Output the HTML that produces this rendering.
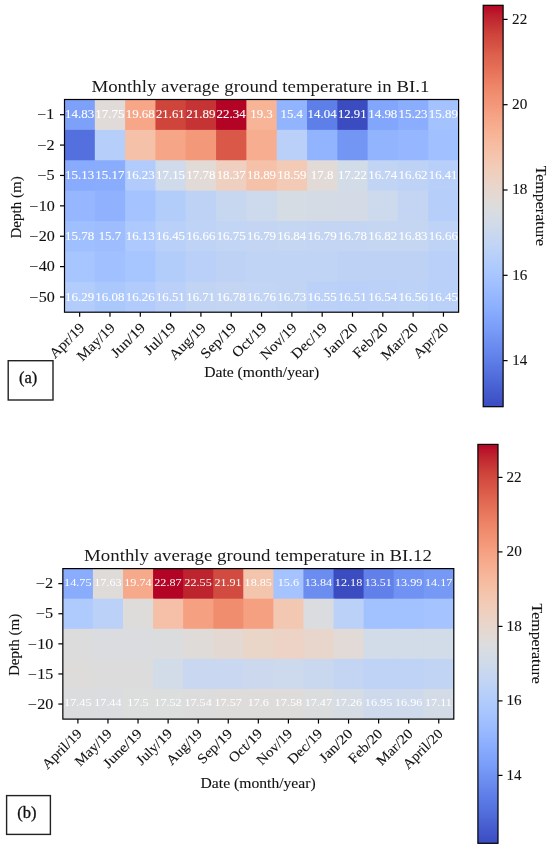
<!DOCTYPE html>
<html><head><meta charset="utf-8"><style>
html,body{margin:0;padding:0;background:#fff;width:550px;height:849px;overflow:hidden}
svg{display:block;font-family:"Liberation Serif",serif;will-change:transform;filter:blur(0.35px)}
</style></head><body>
<svg width="550" height="849" viewBox="0 0 550 849">
<rect x="64.50" y="99.50" width="31.32" height="31.39" fill="#7da0f9"/>
<rect x="94.82" y="99.50" width="31.32" height="31.39" fill="#e0dbd8"/>
<rect x="125.13" y="99.50" width="31.32" height="31.39" fill="#f7a688"/>
<rect x="155.45" y="99.50" width="31.32" height="31.39" fill="#cf453c"/>
<rect x="185.76" y="99.50" width="31.32" height="31.39" fill="#c53334"/>
<rect x="216.08" y="99.50" width="31.32" height="31.39" fill="#b40426"/>
<rect x="246.39" y="99.50" width="31.32" height="31.39" fill="#f7b497"/>
<rect x="276.71" y="99.50" width="31.32" height="31.39" fill="#92b4fe"/>
<rect x="307.02" y="99.50" width="31.32" height="31.39" fill="#5f7fe8"/>
<rect x="337.34" y="99.50" width="31.32" height="31.39" fill="#3b4cc0"/>
<rect x="367.65" y="99.50" width="31.32" height="31.39" fill="#82a6fb"/>
<rect x="397.97" y="99.50" width="31.32" height="31.39" fill="#8badfd"/>
<rect x="428.28" y="99.50" width="30.32" height="31.39" fill="#a3c2fe"/>
<rect x="64.50" y="129.89" width="31.32" height="31.39" fill="#5470de"/>
<rect x="94.82" y="129.89" width="31.32" height="31.39" fill="#b6cefa"/>
<rect x="125.13" y="129.89" width="31.32" height="31.39" fill="#f5c1a9"/>
<rect x="155.45" y="129.89" width="31.32" height="31.39" fill="#f6a586"/>
<rect x="185.76" y="129.89" width="31.32" height="31.39" fill="#f4987a"/>
<rect x="216.08" y="129.89" width="31.32" height="31.39" fill="#d95847"/>
<rect x="246.39" y="129.89" width="31.32" height="31.39" fill="#f7ad90"/>
<rect x="276.71" y="129.89" width="31.32" height="31.39" fill="#bad0f8"/>
<rect x="307.02" y="129.89" width="31.32" height="31.39" fill="#92b4fe"/>
<rect x="337.34" y="129.89" width="31.32" height="31.39" fill="#7396f5"/>
<rect x="367.65" y="129.89" width="31.32" height="31.39" fill="#92b4fe"/>
<rect x="397.97" y="129.89" width="31.32" height="31.39" fill="#96b7ff"/>
<rect x="428.28" y="129.89" width="30.32" height="31.39" fill="#a1c0ff"/>
<rect x="64.50" y="160.27" width="31.32" height="31.39" fill="#88abfd"/>
<rect x="94.82" y="160.27" width="31.32" height="31.39" fill="#89acfd"/>
<rect x="125.13" y="160.27" width="31.32" height="31.39" fill="#b1cbfc"/>
<rect x="155.45" y="160.27" width="31.32" height="31.39" fill="#cfdaea"/>
<rect x="185.76" y="160.27" width="31.32" height="31.39" fill="#e1dad6"/>
<rect x="216.08" y="160.27" width="31.32" height="31.39" fill="#efcfbf"/>
<rect x="246.39" y="160.27" width="31.32" height="31.39" fill="#f5c1a9"/>
<rect x="276.71" y="160.27" width="31.32" height="31.39" fill="#f2cab5"/>
<rect x="307.02" y="160.27" width="31.32" height="31.39" fill="#e1dad6"/>
<rect x="337.34" y="160.27" width="31.32" height="31.39" fill="#d2dbe8"/>
<rect x="367.65" y="160.27" width="31.32" height="31.39" fill="#c1d4f4"/>
<rect x="397.97" y="160.27" width="31.32" height="31.39" fill="#bed2f6"/>
<rect x="428.28" y="160.27" width="30.32" height="31.39" fill="#b7cff9"/>
<rect x="64.50" y="190.66" width="31.32" height="31.39" fill="#96b7ff"/>
<rect x="94.82" y="190.66" width="31.32" height="31.39" fill="#90b2fe"/>
<rect x="125.13" y="190.66" width="31.32" height="31.39" fill="#a5c3fe"/>
<rect x="155.45" y="190.66" width="31.32" height="31.39" fill="#b3cdfb"/>
<rect x="185.76" y="190.66" width="31.32" height="31.39" fill="#bed2f6"/>
<rect x="216.08" y="190.66" width="31.32" height="31.39" fill="#c7d7f0"/>
<rect x="246.39" y="190.66" width="31.32" height="31.39" fill="#cdd9ec"/>
<rect x="276.71" y="190.66" width="31.32" height="31.39" fill="#d6dce4"/>
<rect x="307.02" y="190.66" width="31.32" height="31.39" fill="#d5dbe5"/>
<rect x="337.34" y="190.66" width="31.32" height="31.39" fill="#d4dbe6"/>
<rect x="367.65" y="190.66" width="31.32" height="31.39" fill="#cdd9ec"/>
<rect x="397.97" y="190.66" width="31.32" height="31.39" fill="#c4d5f3"/>
<rect x="428.28" y="190.66" width="30.32" height="31.39" fill="#b6cefa"/>
<rect x="64.50" y="221.04" width="31.32" height="31.39" fill="#9fbfff"/>
<rect x="94.82" y="221.04" width="31.32" height="31.39" fill="#9dbdff"/>
<rect x="125.13" y="221.04" width="31.32" height="31.39" fill="#adc9fd"/>
<rect x="155.45" y="221.04" width="31.32" height="31.39" fill="#b9d0f9"/>
<rect x="185.76" y="221.04" width="31.32" height="31.39" fill="#bfd3f6"/>
<rect x="216.08" y="221.04" width="31.32" height="31.39" fill="#c3d5f4"/>
<rect x="246.39" y="221.04" width="31.32" height="31.39" fill="#c4d5f3"/>
<rect x="276.71" y="221.04" width="31.32" height="31.39" fill="#c5d6f2"/>
<rect x="307.02" y="221.04" width="31.32" height="31.39" fill="#c4d5f3"/>
<rect x="337.34" y="221.04" width="31.32" height="31.39" fill="#c4d5f3"/>
<rect x="367.65" y="221.04" width="31.32" height="31.39" fill="#c5d6f2"/>
<rect x="397.97" y="221.04" width="31.32" height="31.39" fill="#c5d6f2"/>
<rect x="428.28" y="221.04" width="30.32" height="31.39" fill="#bfd3f6"/>
<rect x="64.50" y="251.43" width="31.32" height="31.39" fill="#a7c5fe"/>
<rect x="94.82" y="251.43" width="31.32" height="31.39" fill="#a1c0ff"/>
<rect x="125.13" y="251.43" width="31.32" height="31.39" fill="#a7c5fe"/>
<rect x="155.45" y="251.43" width="31.32" height="31.39" fill="#b3cdfb"/>
<rect x="185.76" y="251.43" width="31.32" height="31.39" fill="#bad0f8"/>
<rect x="216.08" y="251.43" width="31.32" height="31.39" fill="#bed2f6"/>
<rect x="246.39" y="251.43" width="31.32" height="31.39" fill="#c0d4f5"/>
<rect x="276.71" y="251.43" width="31.32" height="31.39" fill="#c0d4f5"/>
<rect x="307.02" y="251.43" width="31.32" height="31.39" fill="#c0d4f5"/>
<rect x="337.34" y="251.43" width="31.32" height="31.39" fill="#bed2f6"/>
<rect x="367.65" y="251.43" width="31.32" height="31.39" fill="#bed2f6"/>
<rect x="397.97" y="251.43" width="31.32" height="31.39" fill="#bed2f6"/>
<rect x="428.28" y="251.43" width="30.32" height="31.39" fill="#bad0f8"/>
<rect x="64.50" y="281.81" width="31.32" height="30.39" fill="#b2ccfb"/>
<rect x="94.82" y="281.81" width="31.32" height="30.39" fill="#abc8fd"/>
<rect x="125.13" y="281.81" width="31.32" height="30.39" fill="#b1cbfc"/>
<rect x="155.45" y="281.81" width="31.32" height="30.39" fill="#bad0f8"/>
<rect x="185.76" y="281.81" width="31.32" height="30.39" fill="#c1d4f4"/>
<rect x="216.08" y="281.81" width="31.32" height="30.39" fill="#c4d5f3"/>
<rect x="246.39" y="281.81" width="31.32" height="30.39" fill="#c3d5f4"/>
<rect x="276.71" y="281.81" width="31.32" height="30.39" fill="#c1d4f4"/>
<rect x="307.02" y="281.81" width="31.32" height="30.39" fill="#bbd1f8"/>
<rect x="337.34" y="281.81" width="31.32" height="30.39" fill="#bad0f8"/>
<rect x="367.65" y="281.81" width="31.32" height="30.39" fill="#bbd1f8"/>
<rect x="397.97" y="281.81" width="31.32" height="30.39" fill="#bcd2f7"/>
<rect x="428.28" y="281.81" width="30.32" height="30.39" fill="#b9d0f9"/>
<text x="65.05" y="118.29" font-size="12.98" textLength="29.06" lengthAdjust="spacingAndGlyphs" fill="#fff" stroke="#fff" stroke-width="0.10">14.83</text>
<text x="95.37" y="118.29" font-size="12.98" textLength="29.06" lengthAdjust="spacingAndGlyphs" fill="#fff" stroke="#fff" stroke-width="0.10">17.75</text>
<text x="125.68" y="118.29" font-size="12.98" textLength="29.17" lengthAdjust="spacingAndGlyphs" fill="#fff" stroke="#fff" stroke-width="0.10">19.68</text>
<text x="155.96" y="118.29" font-size="12.98" textLength="28.69" lengthAdjust="spacingAndGlyphs" fill="#fff" stroke="#fff" stroke-width="0.10">21.61</text>
<text x="186.26" y="118.29" font-size="12.98" textLength="29.22" lengthAdjust="spacingAndGlyphs" fill="#fff" stroke="#fff" stroke-width="0.10">21.89</text>
<text x="216.58" y="118.29" font-size="12.98" textLength="29.05" lengthAdjust="spacingAndGlyphs" fill="#fff" stroke="#fff" stroke-width="0.10">22.34</text>
<text x="250.23" y="118.29" font-size="12.98" textLength="22.52" lengthAdjust="spacingAndGlyphs" fill="#fff" stroke="#fff" stroke-width="0.10">19.3</text>
<text x="280.54" y="118.29" font-size="12.98" textLength="22.45" lengthAdjust="spacingAndGlyphs" fill="#fff" stroke="#fff" stroke-width="0.10">15.4</text>
<text x="307.58" y="118.29" font-size="12.98" textLength="29.00" lengthAdjust="spacingAndGlyphs" fill="#fff" stroke="#fff" stroke-width="0.10">14.04</text>
<text x="337.91" y="118.29" font-size="12.98" textLength="28.62" lengthAdjust="spacingAndGlyphs" fill="#fff" stroke="#fff" stroke-width="0.10">12.91</text>
<text x="368.20" y="118.29" font-size="12.98" textLength="29.17" lengthAdjust="spacingAndGlyphs" fill="#fff" stroke="#fff" stroke-width="0.10">14.98</text>
<text x="398.52" y="118.29" font-size="12.98" textLength="29.06" lengthAdjust="spacingAndGlyphs" fill="#fff" stroke="#fff" stroke-width="0.10">15.23</text>
<text x="428.83" y="118.29" font-size="12.98" textLength="29.17" lengthAdjust="spacingAndGlyphs" fill="#fff" stroke="#fff" stroke-width="0.10">15.89</text>
<text x="65.05" y="179.06" font-size="12.98" textLength="29.06" lengthAdjust="spacingAndGlyphs" fill="#fff" stroke="#fff" stroke-width="0.10">15.13</text>
<text x="95.37" y="179.06" font-size="12.98" textLength="28.98" lengthAdjust="spacingAndGlyphs" fill="#fff" stroke="#fff" stroke-width="0.10">15.17</text>
<text x="125.68" y="179.06" font-size="12.98" textLength="29.06" lengthAdjust="spacingAndGlyphs" fill="#fff" stroke="#fff" stroke-width="0.10">16.23</text>
<text x="156.00" y="179.06" font-size="12.98" textLength="29.06" lengthAdjust="spacingAndGlyphs" fill="#fff" stroke="#fff" stroke-width="0.10">17.15</text>
<text x="186.31" y="179.06" font-size="12.98" textLength="29.17" lengthAdjust="spacingAndGlyphs" fill="#fff" stroke="#fff" stroke-width="0.10">17.78</text>
<text x="216.63" y="179.06" font-size="12.98" textLength="28.98" lengthAdjust="spacingAndGlyphs" fill="#fff" stroke="#fff" stroke-width="0.10">18.37</text>
<text x="246.94" y="179.06" font-size="12.98" textLength="29.17" lengthAdjust="spacingAndGlyphs" fill="#fff" stroke="#fff" stroke-width="0.10">18.89</text>
<text x="277.26" y="179.06" font-size="12.98" textLength="29.17" lengthAdjust="spacingAndGlyphs" fill="#fff" stroke="#fff" stroke-width="0.10">18.59</text>
<text x="310.85" y="179.06" font-size="12.98" textLength="22.63" lengthAdjust="spacingAndGlyphs" fill="#fff" stroke="#fff" stroke-width="0.10">17.8</text>
<text x="337.89" y="179.06" font-size="12.98" textLength="29.05" lengthAdjust="spacingAndGlyphs" fill="#fff" stroke="#fff" stroke-width="0.10">17.22</text>
<text x="368.21" y="179.06" font-size="12.98" textLength="29.00" lengthAdjust="spacingAndGlyphs" fill="#fff" stroke="#fff" stroke-width="0.10">16.74</text>
<text x="398.52" y="179.06" font-size="12.98" textLength="29.05" lengthAdjust="spacingAndGlyphs" fill="#fff" stroke="#fff" stroke-width="0.10">16.62</text>
<text x="428.85" y="179.06" font-size="12.98" textLength="28.62" lengthAdjust="spacingAndGlyphs" fill="#fff" stroke="#fff" stroke-width="0.10">16.41</text>
<text x="65.05" y="239.84" font-size="12.98" textLength="29.17" lengthAdjust="spacingAndGlyphs" fill="#fff" stroke="#fff" stroke-width="0.10">15.78</text>
<text x="98.65" y="239.84" font-size="12.98" textLength="22.43" lengthAdjust="spacingAndGlyphs" fill="#fff" stroke="#fff" stroke-width="0.10">15.7</text>
<text x="125.68" y="239.84" font-size="12.98" textLength="29.06" lengthAdjust="spacingAndGlyphs" fill="#fff" stroke="#fff" stroke-width="0.10">16.13</text>
<text x="156.00" y="239.84" font-size="12.98" textLength="29.06" lengthAdjust="spacingAndGlyphs" fill="#fff" stroke="#fff" stroke-width="0.10">16.45</text>
<text x="186.31" y="239.84" font-size="12.98" textLength="29.09" lengthAdjust="spacingAndGlyphs" fill="#fff" stroke="#fff" stroke-width="0.10">16.66</text>
<text x="216.63" y="239.84" font-size="12.98" textLength="29.06" lengthAdjust="spacingAndGlyphs" fill="#fff" stroke="#fff" stroke-width="0.10">16.75</text>
<text x="246.94" y="239.84" font-size="12.98" textLength="29.17" lengthAdjust="spacingAndGlyphs" fill="#fff" stroke="#fff" stroke-width="0.10">16.79</text>
<text x="277.26" y="239.84" font-size="12.98" textLength="29.00" lengthAdjust="spacingAndGlyphs" fill="#fff" stroke="#fff" stroke-width="0.10">16.84</text>
<text x="307.57" y="239.84" font-size="12.98" textLength="29.17" lengthAdjust="spacingAndGlyphs" fill="#fff" stroke="#fff" stroke-width="0.10">16.79</text>
<text x="337.89" y="239.84" font-size="12.98" textLength="29.17" lengthAdjust="spacingAndGlyphs" fill="#fff" stroke="#fff" stroke-width="0.10">16.78</text>
<text x="368.21" y="239.84" font-size="12.98" textLength="29.05" lengthAdjust="spacingAndGlyphs" fill="#fff" stroke="#fff" stroke-width="0.10">16.82</text>
<text x="398.52" y="239.84" font-size="12.98" textLength="29.06" lengthAdjust="spacingAndGlyphs" fill="#fff" stroke="#fff" stroke-width="0.10">16.83</text>
<text x="428.84" y="239.84" font-size="12.98" textLength="29.09" lengthAdjust="spacingAndGlyphs" fill="#fff" stroke="#fff" stroke-width="0.10">16.66</text>
<text x="65.05" y="300.61" font-size="12.98" textLength="29.17" lengthAdjust="spacingAndGlyphs" fill="#fff" stroke="#fff" stroke-width="0.10">16.29</text>
<text x="95.36" y="300.61" font-size="12.98" textLength="29.17" lengthAdjust="spacingAndGlyphs" fill="#fff" stroke="#fff" stroke-width="0.10">16.08</text>
<text x="125.68" y="300.61" font-size="12.98" textLength="29.09" lengthAdjust="spacingAndGlyphs" fill="#fff" stroke="#fff" stroke-width="0.10">16.26</text>
<text x="156.01" y="300.61" font-size="12.98" textLength="28.62" lengthAdjust="spacingAndGlyphs" fill="#fff" stroke="#fff" stroke-width="0.10">16.51</text>
<text x="186.33" y="300.61" font-size="12.98" textLength="28.62" lengthAdjust="spacingAndGlyphs" fill="#fff" stroke="#fff" stroke-width="0.10">16.71</text>
<text x="216.62" y="300.61" font-size="12.98" textLength="29.17" lengthAdjust="spacingAndGlyphs" fill="#fff" stroke="#fff" stroke-width="0.10">16.78</text>
<text x="246.94" y="300.61" font-size="12.98" textLength="29.09" lengthAdjust="spacingAndGlyphs" fill="#fff" stroke="#fff" stroke-width="0.10">16.76</text>
<text x="277.26" y="300.61" font-size="12.98" textLength="29.06" lengthAdjust="spacingAndGlyphs" fill="#fff" stroke="#fff" stroke-width="0.10">16.73</text>
<text x="307.57" y="300.61" font-size="12.98" textLength="29.06" lengthAdjust="spacingAndGlyphs" fill="#fff" stroke="#fff" stroke-width="0.10">16.55</text>
<text x="337.91" y="300.61" font-size="12.98" textLength="28.62" lengthAdjust="spacingAndGlyphs" fill="#fff" stroke="#fff" stroke-width="0.10">16.51</text>
<text x="368.21" y="300.61" font-size="12.98" textLength="29.00" lengthAdjust="spacingAndGlyphs" fill="#fff" stroke="#fff" stroke-width="0.10">16.54</text>
<text x="398.52" y="300.61" font-size="12.98" textLength="29.09" lengthAdjust="spacingAndGlyphs" fill="#fff" stroke="#fff" stroke-width="0.10">16.56</text>
<text x="428.84" y="300.61" font-size="12.98" textLength="29.06" lengthAdjust="spacingAndGlyphs" fill="#fff" stroke="#fff" stroke-width="0.10">16.45</text>
<rect x="64.50" y="99.50" width="394.10" height="212.70" fill="none" stroke="#000" stroke-width="1.20"/>
<line x1="60.00" y1="114.69" x2="64.50" y2="114.69" stroke="#000" stroke-width="1.20"/>
<text x="37.44" y="119.39" font-size="14.09" textLength="16.79" lengthAdjust="spacingAndGlyphs" fill="#111" stroke="#111" stroke-width="0.10">−1</text>
<line x1="60.00" y1="145.08" x2="64.50" y2="145.08" stroke="#000" stroke-width="1.20"/>
<text x="37.41" y="149.78" font-size="14.09" textLength="17.31" lengthAdjust="spacingAndGlyphs" fill="#111" stroke="#111" stroke-width="0.10">−2</text>
<line x1="60.00" y1="175.46" x2="64.50" y2="175.46" stroke="#000" stroke-width="1.20"/>
<text x="37.41" y="180.16" font-size="14.09" textLength="17.31" lengthAdjust="spacingAndGlyphs" fill="#111" stroke="#111" stroke-width="0.10">−5</text>
<line x1="60.00" y1="205.85" x2="64.50" y2="205.85" stroke="#000" stroke-width="1.20"/>
<text x="29.63" y="210.55" font-size="14.09" textLength="25.20" lengthAdjust="spacingAndGlyphs" fill="#111" stroke="#111" stroke-width="0.10">−10</text>
<line x1="60.00" y1="236.24" x2="64.50" y2="236.24" stroke="#000" stroke-width="1.20"/>
<text x="29.63" y="240.94" font-size="14.09" textLength="25.20" lengthAdjust="spacingAndGlyphs" fill="#111" stroke="#111" stroke-width="0.10">−20</text>
<line x1="60.00" y1="266.62" x2="64.50" y2="266.62" stroke="#000" stroke-width="1.20"/>
<text x="29.63" y="271.32" font-size="14.09" textLength="25.20" lengthAdjust="spacingAndGlyphs" fill="#111" stroke="#111" stroke-width="0.10">−40</text>
<line x1="60.00" y1="297.01" x2="64.50" y2="297.01" stroke="#000" stroke-width="1.20"/>
<text x="29.63" y="301.71" font-size="14.09" textLength="25.20" lengthAdjust="spacingAndGlyphs" fill="#111" stroke="#111" stroke-width="0.10">−50</text>
<line x1="79.66" y1="312.20" x2="79.66" y2="316.70" stroke="#000" stroke-width="1.20"/>
<text x="42.32" y="328.40" font-size="14.37" textLength="43.11" lengthAdjust="spacingAndGlyphs" fill="#111" stroke="#111" stroke-width="0.10" transform="rotate(-45 85.66 328.40)">Apr/19</text>
<line x1="109.97" y1="312.20" x2="109.97" y2="316.70" stroke="#000" stroke-width="1.20"/>
<text x="68.71" y="328.40" font-size="14.37" textLength="47.07" lengthAdjust="spacingAndGlyphs" fill="#111" stroke="#111" stroke-width="0.10" transform="rotate(-45 115.97 328.40)">May/19</text>
<line x1="140.29" y1="312.20" x2="140.29" y2="316.70" stroke="#000" stroke-width="1.20"/>
<text x="103.68" y="328.40" font-size="14.37" textLength="42.42" lengthAdjust="spacingAndGlyphs" fill="#111" stroke="#111" stroke-width="0.10" transform="rotate(-45 146.29 328.40)">Jun/19</text>
<line x1="170.60" y1="312.20" x2="170.60" y2="316.70" stroke="#000" stroke-width="1.20"/>
<text x="138.05" y="328.40" font-size="14.37" textLength="38.38" lengthAdjust="spacingAndGlyphs" fill="#111" stroke="#111" stroke-width="0.10" transform="rotate(-45 176.60 328.40)">Jul/19</text>
<line x1="200.92" y1="312.20" x2="200.92" y2="316.70" stroke="#000" stroke-width="1.20"/>
<text x="161.51" y="328.40" font-size="14.37" textLength="45.19" lengthAdjust="spacingAndGlyphs" fill="#111" stroke="#111" stroke-width="0.10" transform="rotate(-45 206.92 328.40)">Aug/19</text>
<line x1="231.23" y1="312.20" x2="231.23" y2="316.70" stroke="#000" stroke-width="1.20"/>
<text x="193.19" y="328.40" font-size="14.37" textLength="43.81" lengthAdjust="spacingAndGlyphs" fill="#111" stroke="#111" stroke-width="0.10" transform="rotate(-45 237.23 328.40)">Sep/19</text>
<line x1="261.55" y1="312.20" x2="261.55" y2="316.70" stroke="#000" stroke-width="1.20"/>
<text x="225.23" y="328.40" font-size="14.37" textLength="42.14" lengthAdjust="spacingAndGlyphs" fill="#111" stroke="#111" stroke-width="0.10" transform="rotate(-45 267.55 328.40)">Oct/19</text>
<line x1="291.87" y1="312.20" x2="291.87" y2="316.70" stroke="#000" stroke-width="1.20"/>
<text x="252.40" y="328.40" font-size="14.37" textLength="45.24" lengthAdjust="spacingAndGlyphs" fill="#111" stroke="#111" stroke-width="0.10" transform="rotate(-45 297.87 328.40)">Nov/19</text>
<line x1="322.18" y1="312.20" x2="322.18" y2="316.70" stroke="#000" stroke-width="1.20"/>
<text x="283.87" y="328.40" font-size="14.37" textLength="44.03" lengthAdjust="spacingAndGlyphs" fill="#111" stroke="#111" stroke-width="0.10" transform="rotate(-45 328.18 328.40)">Dec/19</text>
<line x1="352.50" y1="312.20" x2="352.50" y2="316.70" stroke="#000" stroke-width="1.20"/>
<text x="316.48" y="328.40" font-size="14.37" textLength="41.85" lengthAdjust="spacingAndGlyphs" fill="#111" stroke="#111" stroke-width="0.10" transform="rotate(-45 358.50 328.40)">Jan/20</text>
<line x1="382.81" y1="312.20" x2="382.81" y2="316.70" stroke="#000" stroke-width="1.20"/>
<text x="345.53" y="328.40" font-size="14.37" textLength="43.05" lengthAdjust="spacingAndGlyphs" fill="#111" stroke="#111" stroke-width="0.10" transform="rotate(-45 388.81 328.40)">Feb/20</text>
<line x1="413.13" y1="312.20" x2="413.13" y2="316.70" stroke="#000" stroke-width="1.20"/>
<text x="372.94" y="328.40" font-size="14.37" textLength="45.95" lengthAdjust="spacingAndGlyphs" fill="#111" stroke="#111" stroke-width="0.10" transform="rotate(-45 419.13 328.40)">Mar/20</text>
<line x1="443.44" y1="312.20" x2="443.44" y2="316.70" stroke="#000" stroke-width="1.20"/>
<text x="406.10" y="328.40" font-size="14.37" textLength="43.11" lengthAdjust="spacingAndGlyphs" fill="#111" stroke="#111" stroke-width="0.10" transform="rotate(-45 449.44 328.40)">Apr/20</text>
<text x="91.44" y="91.70" font-size="16.58" textLength="337.93" lengthAdjust="spacingAndGlyphs" fill="#1a1a1a" stroke="#1a1a1a" stroke-width="0.00">Monthly average ground temperature in BI.1</text>
<text x="204.20" y="377.20" font-size="14.09" textLength="115.10" lengthAdjust="spacingAndGlyphs" fill="#111" stroke="#111" stroke-width="0.10">Date (month/year)</text>
<text x="-10.28" y="207.35" font-size="14.09" textLength="62.22" lengthAdjust="spacingAndGlyphs" fill="#111" stroke="#111" stroke-width="0.10" transform="rotate(-90 20.90 207.35)">Depth (m)</text>
<defs><linearGradient id="ga" x1="0" y1="0" x2="0" y2="1"><stop offset="0.0000" stop-color="#b40426"/><stop offset="0.0250" stop-color="#bd1f2d"/><stop offset="0.0500" stop-color="#c53334"/><stop offset="0.0750" stop-color="#cf453c"/><stop offset="0.1000" stop-color="#d65244"/><stop offset="0.1250" stop-color="#de614d"/><stop offset="0.1500" stop-color="#e36c55"/><stop offset="0.1750" stop-color="#e9785d"/><stop offset="0.2000" stop-color="#ee8468"/><stop offset="0.2250" stop-color="#f18f71"/><stop offset="0.2500" stop-color="#f4987a"/><stop offset="0.2750" stop-color="#f6a385"/><stop offset="0.3000" stop-color="#f7ac8e"/><stop offset="0.3250" stop-color="#f7b599"/><stop offset="0.3500" stop-color="#f6bda2"/><stop offset="0.3750" stop-color="#f5c4ac"/><stop offset="0.4000" stop-color="#f2cbb7"/><stop offset="0.4250" stop-color="#eed0c0"/><stop offset="0.4500" stop-color="#e9d5cb"/><stop offset="0.4750" stop-color="#e3d9d3"/><stop offset="0.5000" stop-color="#dddcdc"/><stop offset="0.5250" stop-color="#d6dce4"/><stop offset="0.5500" stop-color="#cfdaea"/><stop offset="0.5750" stop-color="#c7d7f0"/><stop offset="0.6000" stop-color="#c0d4f5"/><stop offset="0.6250" stop-color="#b7cff9"/><stop offset="0.6500" stop-color="#afcafc"/><stop offset="0.6750" stop-color="#a7c5fe"/><stop offset="0.7000" stop-color="#9ebeff"/><stop offset="0.7250" stop-color="#96b7ff"/><stop offset="0.7500" stop-color="#8db0fe"/><stop offset="0.7750" stop-color="#84a7fc"/><stop offset="0.8000" stop-color="#7b9ff9"/><stop offset="0.8250" stop-color="#7295f4"/><stop offset="0.8500" stop-color="#6a8bef"/><stop offset="0.8750" stop-color="#6282ea"/><stop offset="0.9000" stop-color="#5977e3"/><stop offset="0.9250" stop-color="#516ddb"/><stop offset="0.9500" stop-color="#4961d2"/><stop offset="0.9750" stop-color="#4257c9"/><stop offset="1.0000" stop-color="#3b4cc0"/></linearGradient></defs>
<rect x="483.20" y="5.30" width="19.90" height="401.40" fill="url(#ga)" stroke="#000" stroke-width="1.20"/>
<line x1="503.10" y1="360.63" x2="507.60" y2="360.63" stroke="#000" stroke-width="1.20"/>
<text x="512.20" y="364.83" font-size="14.09" textLength="14.97" lengthAdjust="spacingAndGlyphs" fill="#111" stroke="#111" stroke-width="0.10">14</text>
<line x1="503.10" y1="275.32" x2="507.60" y2="275.32" stroke="#000" stroke-width="1.20"/>
<text x="512.19" y="279.52" font-size="14.09" textLength="15.09" lengthAdjust="spacingAndGlyphs" fill="#111" stroke="#111" stroke-width="0.10">16</text>
<line x1="503.10" y1="190.00" x2="507.60" y2="190.00" stroke="#000" stroke-width="1.20"/>
<text x="512.18" y="194.20" font-size="14.09" textLength="15.19" lengthAdjust="spacingAndGlyphs" fill="#111" stroke="#111" stroke-width="0.10">18</text>
<line x1="503.10" y1="104.69" x2="507.60" y2="104.69" stroke="#000" stroke-width="1.20"/>
<text x="512.11" y="108.89" font-size="14.09" textLength="15.26" lengthAdjust="spacingAndGlyphs" fill="#111" stroke="#111" stroke-width="0.10">20</text>
<line x1="503.10" y1="19.38" x2="507.60" y2="19.38" stroke="#000" stroke-width="1.20"/>
<text x="512.12" y="23.58" font-size="14.09" textLength="15.11" lengthAdjust="spacingAndGlyphs" fill="#111" stroke="#111" stroke-width="0.10">22</text>
<text x="495.18" y="206.00" font-size="14.09" textLength="80.35" lengthAdjust="spacingAndGlyphs" fill="#111" stroke="#111" stroke-width="0.10" transform="rotate(90 535.50 206.00)">Temperature</text>
<rect x="8.20" y="360.70" width="44.80" height="39.30" fill="#fff" stroke="#222" stroke-width="1.40"/>
<text x="28.20" y="382.80" font-size="16.50" text-anchor="middle" fill="#111" stroke="#111" stroke-width="0.3">(a)</text>
<rect x="62.85" y="568.60" width="31.07" height="31.10" fill="#89acfd"/>
<rect x="92.92" y="568.60" width="31.07" height="31.10" fill="#dfdbd9"/>
<rect x="123.00" y="568.60" width="31.07" height="31.10" fill="#f7a98b"/>
<rect x="153.07" y="568.60" width="31.07" height="31.10" fill="#b40426"/>
<rect x="183.14" y="568.60" width="31.07" height="31.10" fill="#be242e"/>
<rect x="213.22" y="568.60" width="31.07" height="31.10" fill="#d24b40"/>
<rect x="243.29" y="568.60" width="31.07" height="31.10" fill="#f4c5ad"/>
<rect x="273.36" y="568.60" width="31.07" height="31.10" fill="#a5c3fe"/>
<rect x="303.43" y="568.60" width="31.07" height="31.10" fill="#6b8df0"/>
<rect x="333.51" y="568.60" width="31.07" height="31.10" fill="#3b4cc0"/>
<rect x="363.58" y="568.60" width="31.07" height="31.10" fill="#6180e9"/>
<rect x="393.65" y="568.60" width="31.07" height="31.10" fill="#7093f3"/>
<rect x="423.73" y="568.60" width="30.07" height="31.10" fill="#7699f6"/>
<rect x="62.85" y="598.70" width="31.07" height="31.10" fill="#afcafc"/>
<rect x="92.92" y="598.70" width="31.07" height="31.10" fill="#bbd1f8"/>
<rect x="123.00" y="598.70" width="31.07" height="31.10" fill="#dedcdb"/>
<rect x="153.07" y="598.70" width="31.07" height="31.10" fill="#f5c0a7"/>
<rect x="183.14" y="598.70" width="31.07" height="31.10" fill="#f5a081"/>
<rect x="213.22" y="598.70" width="31.07" height="31.10" fill="#f18d6f"/>
<rect x="243.29" y="598.70" width="31.07" height="31.10" fill="#f5a081"/>
<rect x="273.36" y="598.70" width="31.07" height="31.10" fill="#f3c8b2"/>
<rect x="303.43" y="598.70" width="31.07" height="31.10" fill="#dadce0"/>
<rect x="333.51" y="598.70" width="31.07" height="31.10" fill="#bbd1f8"/>
<rect x="363.58" y="598.70" width="31.07" height="31.10" fill="#a2c1ff"/>
<rect x="393.65" y="598.70" width="31.07" height="31.10" fill="#a2c1ff"/>
<rect x="423.73" y="598.70" width="30.07" height="31.10" fill="#a5c3fe"/>
<rect x="62.85" y="628.80" width="31.07" height="31.10" fill="#dddcdc"/>
<rect x="92.92" y="628.80" width="31.07" height="31.10" fill="#dadce0"/>
<rect x="123.00" y="628.80" width="31.07" height="31.10" fill="#dadce0"/>
<rect x="153.07" y="628.80" width="31.07" height="31.10" fill="#dbdcde"/>
<rect x="183.14" y="628.80" width="31.07" height="31.10" fill="#dfdbd9"/>
<rect x="213.22" y="628.80" width="31.07" height="31.10" fill="#e4d9d2"/>
<rect x="243.29" y="628.80" width="31.07" height="31.10" fill="#ead5c9"/>
<rect x="273.36" y="628.80" width="31.07" height="31.10" fill="#ecd3c5"/>
<rect x="303.43" y="628.80" width="31.07" height="31.10" fill="#e8d6cc"/>
<rect x="333.51" y="628.80" width="31.07" height="31.10" fill="#e1dad6"/>
<rect x="363.58" y="628.80" width="31.07" height="31.10" fill="#d2dbe8"/>
<rect x="393.65" y="628.80" width="31.07" height="31.10" fill="#d2dbe8"/>
<rect x="423.73" y="628.80" width="30.07" height="31.10" fill="#d2dbe8"/>
<rect x="62.85" y="658.90" width="31.07" height="31.10" fill="#dedcdb"/>
<rect x="92.92" y="658.90" width="31.07" height="31.10" fill="#dddcdc"/>
<rect x="123.00" y="658.90" width="31.07" height="31.10" fill="#dddcdc"/>
<rect x="153.07" y="658.90" width="31.07" height="31.10" fill="#d2dbe8"/>
<rect x="183.14" y="658.90" width="31.07" height="31.10" fill="#c9d7f0"/>
<rect x="213.22" y="658.90" width="31.07" height="31.10" fill="#c9d7f0"/>
<rect x="243.29" y="658.90" width="31.07" height="31.10" fill="#cbd8ee"/>
<rect x="273.36" y="658.90" width="31.07" height="31.10" fill="#cdd9ec"/>
<rect x="303.43" y="658.90" width="31.07" height="31.10" fill="#cad8ef"/>
<rect x="333.51" y="658.90" width="31.07" height="31.10" fill="#c4d5f3"/>
<rect x="363.58" y="658.90" width="31.07" height="31.10" fill="#bfd3f6"/>
<rect x="393.65" y="658.90" width="31.07" height="31.10" fill="#bfd3f6"/>
<rect x="423.73" y="658.90" width="30.07" height="31.10" fill="#c1d4f4"/>
<rect x="62.85" y="689.00" width="31.07" height="30.10" fill="#dbdcde"/>
<rect x="92.92" y="689.00" width="31.07" height="30.10" fill="#dadce0"/>
<rect x="123.00" y="689.00" width="31.07" height="30.10" fill="#dcdddd"/>
<rect x="153.07" y="689.00" width="31.07" height="30.10" fill="#dcdddd"/>
<rect x="183.14" y="689.00" width="31.07" height="30.10" fill="#dddcdc"/>
<rect x="213.22" y="689.00" width="31.07" height="30.10" fill="#dedcdb"/>
<rect x="243.29" y="689.00" width="31.07" height="30.10" fill="#dedcdb"/>
<rect x="273.36" y="689.00" width="31.07" height="30.10" fill="#dedcdb"/>
<rect x="303.43" y="689.00" width="31.07" height="30.10" fill="#dbdcde"/>
<rect x="333.51" y="689.00" width="31.07" height="30.10" fill="#d6dce4"/>
<rect x="363.58" y="689.00" width="31.07" height="30.10" fill="#cedaeb"/>
<rect x="393.65" y="689.00" width="31.07" height="30.10" fill="#cedaeb"/>
<rect x="423.73" y="689.00" width="30.07" height="30.10" fill="#d3dbe7"/>
<text x="64.13" y="585.85" font-size="11.15" textLength="27.37" lengthAdjust="spacingAndGlyphs" fill="#fff" stroke="#fff" stroke-width="0.00">14.75</text>
<text x="94.20" y="585.85" font-size="11.15" textLength="27.37" lengthAdjust="spacingAndGlyphs" fill="#fff" stroke="#fff" stroke-width="0.00">17.63</text>
<text x="124.28" y="585.85" font-size="11.15" textLength="27.31" lengthAdjust="spacingAndGlyphs" fill="#fff" stroke="#fff" stroke-width="0.00">19.74</text>
<text x="154.30" y="585.85" font-size="11.15" textLength="27.34" lengthAdjust="spacingAndGlyphs" fill="#fff" stroke="#fff" stroke-width="0.00">22.87</text>
<text x="184.38" y="585.85" font-size="11.15" textLength="27.42" lengthAdjust="spacingAndGlyphs" fill="#fff" stroke="#fff" stroke-width="0.00">22.55</text>
<text x="214.46" y="585.85" font-size="11.15" textLength="27.01" lengthAdjust="spacingAndGlyphs" fill="#fff" stroke="#fff" stroke-width="0.00">21.91</text>
<text x="244.57" y="585.85" font-size="11.15" textLength="27.37" lengthAdjust="spacingAndGlyphs" fill="#fff" stroke="#fff" stroke-width="0.00">18.85</text>
<text x="277.73" y="585.85" font-size="11.15" textLength="21.23" lengthAdjust="spacingAndGlyphs" fill="#fff" stroke="#fff" stroke-width="0.00">15.6</text>
<text x="304.72" y="585.85" font-size="11.15" textLength="27.31" lengthAdjust="spacingAndGlyphs" fill="#fff" stroke="#fff" stroke-width="0.00">13.84</text>
<text x="334.79" y="585.85" font-size="11.15" textLength="27.47" lengthAdjust="spacingAndGlyphs" fill="#fff" stroke="#fff" stroke-width="0.00">12.18</text>
<text x="364.88" y="585.85" font-size="11.15" textLength="26.96" lengthAdjust="spacingAndGlyphs" fill="#fff" stroke="#fff" stroke-width="0.00">13.51</text>
<text x="394.93" y="585.85" font-size="11.15" textLength="27.47" lengthAdjust="spacingAndGlyphs" fill="#fff" stroke="#fff" stroke-width="0.00">13.99</text>
<text x="425.01" y="585.85" font-size="11.15" textLength="27.29" lengthAdjust="spacingAndGlyphs" fill="#fff" stroke="#fff" stroke-width="0.00">14.17</text>
<text x="64.13" y="706.25" font-size="11.15" textLength="27.37" lengthAdjust="spacingAndGlyphs" fill="#fff" stroke="#fff" stroke-width="0.00">17.45</text>
<text x="94.21" y="706.25" font-size="11.15" textLength="27.31" lengthAdjust="spacingAndGlyphs" fill="#fff" stroke="#fff" stroke-width="0.00">17.44</text>
<text x="127.37" y="706.25" font-size="11.15" textLength="21.21" lengthAdjust="spacingAndGlyphs" fill="#fff" stroke="#fff" stroke-width="0.00">17.5</text>
<text x="154.35" y="706.25" font-size="11.15" textLength="27.36" lengthAdjust="spacingAndGlyphs" fill="#fff" stroke="#fff" stroke-width="0.00">17.52</text>
<text x="184.43" y="706.25" font-size="11.15" textLength="27.31" lengthAdjust="spacingAndGlyphs" fill="#fff" stroke="#fff" stroke-width="0.00">17.54</text>
<text x="214.50" y="706.25" font-size="11.15" textLength="27.29" lengthAdjust="spacingAndGlyphs" fill="#fff" stroke="#fff" stroke-width="0.00">17.57</text>
<text x="247.66" y="706.25" font-size="11.15" textLength="21.23" lengthAdjust="spacingAndGlyphs" fill="#fff" stroke="#fff" stroke-width="0.00">17.6</text>
<text x="274.64" y="706.25" font-size="11.15" textLength="27.47" lengthAdjust="spacingAndGlyphs" fill="#fff" stroke="#fff" stroke-width="0.00">17.58</text>
<text x="304.72" y="706.25" font-size="11.15" textLength="27.29" lengthAdjust="spacingAndGlyphs" fill="#fff" stroke="#fff" stroke-width="0.00">17.47</text>
<text x="334.79" y="706.25" font-size="11.15" textLength="27.40" lengthAdjust="spacingAndGlyphs" fill="#fff" stroke="#fff" stroke-width="0.00">17.26</text>
<text x="364.86" y="706.25" font-size="11.15" textLength="27.37" lengthAdjust="spacingAndGlyphs" fill="#fff" stroke="#fff" stroke-width="0.00">16.95</text>
<text x="394.93" y="706.25" font-size="11.15" textLength="27.40" lengthAdjust="spacingAndGlyphs" fill="#fff" stroke="#fff" stroke-width="0.00">16.96</text>
<text x="425.01" y="706.25" font-size="11.15" textLength="26.96" lengthAdjust="spacingAndGlyphs" fill="#fff" stroke="#fff" stroke-width="0.00">17.11</text>
<rect x="62.85" y="568.60" width="390.95" height="150.50" fill="none" stroke="#000" stroke-width="1.20"/>
<line x1="58.35" y1="583.65" x2="62.85" y2="583.65" stroke="#000" stroke-width="1.20"/>
<text x="35.91" y="588.35" font-size="14.09" textLength="17.31" lengthAdjust="spacingAndGlyphs" fill="#111" stroke="#111" stroke-width="0.10">−2</text>
<line x1="58.35" y1="613.75" x2="62.85" y2="613.75" stroke="#000" stroke-width="1.20"/>
<text x="35.91" y="618.45" font-size="14.09" textLength="17.31" lengthAdjust="spacingAndGlyphs" fill="#111" stroke="#111" stroke-width="0.10">−5</text>
<line x1="58.35" y1="643.85" x2="62.85" y2="643.85" stroke="#000" stroke-width="1.20"/>
<text x="28.13" y="648.55" font-size="14.09" textLength="25.20" lengthAdjust="spacingAndGlyphs" fill="#111" stroke="#111" stroke-width="0.10">−10</text>
<line x1="58.35" y1="673.95" x2="62.85" y2="673.95" stroke="#000" stroke-width="1.20"/>
<text x="28.13" y="678.65" font-size="14.09" textLength="25.07" lengthAdjust="spacingAndGlyphs" fill="#111" stroke="#111" stroke-width="0.10">−15</text>
<line x1="58.35" y1="704.05" x2="62.85" y2="704.05" stroke="#000" stroke-width="1.20"/>
<text x="28.13" y="708.75" font-size="14.09" textLength="25.20" lengthAdjust="spacingAndGlyphs" fill="#111" stroke="#111" stroke-width="0.10">−20</text>
<line x1="77.89" y1="719.10" x2="77.89" y2="723.60" stroke="#000" stroke-width="1.20"/>
<text x="32.79" y="734.40" font-size="14.03" textLength="49.88" lengthAdjust="spacingAndGlyphs" fill="#111" stroke="#111" stroke-width="0.10" transform="rotate(-45 82.89 734.40)">April/19</text>
<line x1="107.96" y1="719.10" x2="107.96" y2="723.60" stroke="#000" stroke-width="1.20"/>
<text x="66.83" y="734.40" font-size="14.03" textLength="45.94" lengthAdjust="spacingAndGlyphs" fill="#111" stroke="#111" stroke-width="0.10" transform="rotate(-45 112.96 734.40)">May/19</text>
<line x1="138.03" y1="719.10" x2="138.03" y2="723.60" stroke="#000" stroke-width="1.20"/>
<text x="94.22" y="734.40" font-size="14.03" textLength="48.65" lengthAdjust="spacingAndGlyphs" fill="#111" stroke="#111" stroke-width="0.10" transform="rotate(-45 143.03 734.40)">June/19</text>
<line x1="168.11" y1="719.10" x2="168.11" y2="723.60" stroke="#000" stroke-width="1.20"/>
<text x="128.59" y="734.40" font-size="14.03" textLength="44.33" lengthAdjust="spacingAndGlyphs" fill="#111" stroke="#111" stroke-width="0.10" transform="rotate(-45 173.11 734.40)">July/19</text>
<line x1="198.18" y1="719.10" x2="198.18" y2="723.60" stroke="#000" stroke-width="1.20"/>
<text x="158.86" y="734.40" font-size="14.03" textLength="44.11" lengthAdjust="spacingAndGlyphs" fill="#111" stroke="#111" stroke-width="0.10" transform="rotate(-45 203.18 734.40)">Aug/19</text>
<line x1="228.25" y1="719.10" x2="228.25" y2="723.60" stroke="#000" stroke-width="1.20"/>
<text x="190.27" y="734.40" font-size="14.03" textLength="42.76" lengthAdjust="spacingAndGlyphs" fill="#111" stroke="#111" stroke-width="0.10" transform="rotate(-45 233.25 734.40)">Sep/19</text>
<line x1="258.32" y1="719.10" x2="258.32" y2="723.60" stroke="#000" stroke-width="1.20"/>
<text x="222.02" y="734.40" font-size="14.03" textLength="41.13" lengthAdjust="spacingAndGlyphs" fill="#111" stroke="#111" stroke-width="0.10" transform="rotate(-45 263.32 734.40)">Oct/19</text>
<line x1="288.40" y1="719.10" x2="288.40" y2="723.60" stroke="#000" stroke-width="1.20"/>
<text x="249.02" y="734.40" font-size="14.03" textLength="44.16" lengthAdjust="spacingAndGlyphs" fill="#111" stroke="#111" stroke-width="0.10" transform="rotate(-45 293.40 734.40)">Nov/19</text>
<line x1="318.47" y1="719.10" x2="318.47" y2="723.60" stroke="#000" stroke-width="1.20"/>
<text x="280.23" y="734.40" font-size="14.03" textLength="42.97" lengthAdjust="spacingAndGlyphs" fill="#111" stroke="#111" stroke-width="0.10" transform="rotate(-45 323.47 734.40)">Dec/19</text>
<line x1="348.54" y1="719.10" x2="348.54" y2="723.60" stroke="#000" stroke-width="1.20"/>
<text x="312.54" y="734.40" font-size="14.03" textLength="40.84" lengthAdjust="spacingAndGlyphs" fill="#111" stroke="#111" stroke-width="0.10" transform="rotate(-45 353.54 734.40)">Jan/20</text>
<line x1="378.62" y1="719.10" x2="378.62" y2="723.60" stroke="#000" stroke-width="1.20"/>
<text x="341.37" y="734.40" font-size="14.03" textLength="42.02" lengthAdjust="spacingAndGlyphs" fill="#111" stroke="#111" stroke-width="0.10" transform="rotate(-45 383.62 734.40)">Feb/20</text>
<line x1="408.69" y1="719.10" x2="408.69" y2="723.60" stroke="#000" stroke-width="1.20"/>
<text x="368.61" y="734.40" font-size="14.03" textLength="44.85" lengthAdjust="spacingAndGlyphs" fill="#111" stroke="#111" stroke-width="0.10" transform="rotate(-45 413.69 734.40)">Mar/20</text>
<line x1="438.76" y1="719.10" x2="438.76" y2="723.60" stroke="#000" stroke-width="1.20"/>
<text x="393.66" y="734.40" font-size="14.03" textLength="49.88" lengthAdjust="spacingAndGlyphs" fill="#111" stroke="#111" stroke-width="0.10" transform="rotate(-45 443.76 734.40)">April/20</text>
<text x="84.01" y="560.90" font-size="16.58" textLength="347.90" lengthAdjust="spacingAndGlyphs" fill="#1a1a1a" stroke="#1a1a1a" stroke-width="0.00">Monthly average ground temperature in BI.12</text>
<text x="200.58" y="787.60" font-size="14.09" textLength="115.10" lengthAdjust="spacingAndGlyphs" fill="#111" stroke="#111" stroke-width="0.10">Date (month/year)</text>
<text x="-11.68" y="644.85" font-size="14.09" textLength="62.22" lengthAdjust="spacingAndGlyphs" fill="#111" stroke="#111" stroke-width="0.10" transform="rotate(-90 19.50 644.85)">Depth (m)</text>
<defs><linearGradient id="gb" x1="0" y1="0" x2="0" y2="1"><stop offset="0.0000" stop-color="#b40426"/><stop offset="0.0250" stop-color="#bd1f2d"/><stop offset="0.0500" stop-color="#c53334"/><stop offset="0.0750" stop-color="#cf453c"/><stop offset="0.1000" stop-color="#d65244"/><stop offset="0.1250" stop-color="#dd5f4b"/><stop offset="0.1500" stop-color="#e36c55"/><stop offset="0.1750" stop-color="#e9785d"/><stop offset="0.2000" stop-color="#ee8468"/><stop offset="0.2250" stop-color="#f18f71"/><stop offset="0.2500" stop-color="#f4987a"/><stop offset="0.2750" stop-color="#f6a385"/><stop offset="0.3000" stop-color="#f7ac8e"/><stop offset="0.3250" stop-color="#f7b599"/><stop offset="0.3500" stop-color="#f6bda2"/><stop offset="0.3750" stop-color="#f4c5ad"/><stop offset="0.4000" stop-color="#f2cbb7"/><stop offset="0.4250" stop-color="#eed0c0"/><stop offset="0.4500" stop-color="#e9d5cb"/><stop offset="0.4750" stop-color="#e3d9d3"/><stop offset="0.5000" stop-color="#dcdddd"/><stop offset="0.5250" stop-color="#d6dce4"/><stop offset="0.5500" stop-color="#cfdaea"/><stop offset="0.5750" stop-color="#c7d7f0"/><stop offset="0.6000" stop-color="#c0d4f5"/><stop offset="0.6250" stop-color="#b7cff9"/><stop offset="0.6500" stop-color="#afcafc"/><stop offset="0.6750" stop-color="#a7c5fe"/><stop offset="0.7000" stop-color="#9ebeff"/><stop offset="0.7250" stop-color="#96b7ff"/><stop offset="0.7500" stop-color="#8caffe"/><stop offset="0.7750" stop-color="#84a7fc"/><stop offset="0.8000" stop-color="#7b9ff9"/><stop offset="0.8250" stop-color="#7295f4"/><stop offset="0.8500" stop-color="#6a8bef"/><stop offset="0.8750" stop-color="#6180e9"/><stop offset="0.9000" stop-color="#5977e3"/><stop offset="0.9250" stop-color="#516ddb"/><stop offset="0.9500" stop-color="#4961d2"/><stop offset="0.9750" stop-color="#4257c9"/><stop offset="1.0000" stop-color="#3b4cc0"/></linearGradient></defs>
<rect x="477.90" y="444.40" width="20.10" height="398.90" fill="url(#gb)" stroke="#000" stroke-width="1.20"/>
<line x1="498.00" y1="775.39" x2="502.50" y2="775.39" stroke="#000" stroke-width="1.20"/>
<text x="506.60" y="779.59" font-size="14.09" textLength="14.97" lengthAdjust="spacingAndGlyphs" fill="#111" stroke="#111" stroke-width="0.10">14</text>
<line x1="498.00" y1="700.90" x2="502.50" y2="700.90" stroke="#000" stroke-width="1.20"/>
<text x="506.59" y="705.10" font-size="14.09" textLength="15.09" lengthAdjust="spacingAndGlyphs" fill="#111" stroke="#111" stroke-width="0.10">16</text>
<line x1="498.00" y1="626.40" x2="502.50" y2="626.40" stroke="#000" stroke-width="1.20"/>
<text x="506.58" y="630.60" font-size="14.09" textLength="15.19" lengthAdjust="spacingAndGlyphs" fill="#111" stroke="#111" stroke-width="0.10">18</text>
<line x1="498.00" y1="551.90" x2="502.50" y2="551.90" stroke="#000" stroke-width="1.20"/>
<text x="506.51" y="556.10" font-size="14.09" textLength="15.26" lengthAdjust="spacingAndGlyphs" fill="#111" stroke="#111" stroke-width="0.10">20</text>
<line x1="498.00" y1="477.40" x2="502.50" y2="477.40" stroke="#000" stroke-width="1.20"/>
<text x="506.52" y="481.60" font-size="14.09" textLength="15.11" lengthAdjust="spacingAndGlyphs" fill="#111" stroke="#111" stroke-width="0.10">22</text>
<text x="491.18" y="643.85" font-size="14.09" textLength="80.35" lengthAdjust="spacingAndGlyphs" fill="#111" stroke="#111" stroke-width="0.10" transform="rotate(90 531.50 643.85)">Temperature</text>
<rect x="6.60" y="795.60" width="43.80" height="38.80" fill="#fff" stroke="#222" stroke-width="1.40"/>
<text x="26.90" y="817.60" font-size="16.50" text-anchor="middle" fill="#111" stroke="#111" stroke-width="0.3">(b)</text>
</svg>
</body></html>
